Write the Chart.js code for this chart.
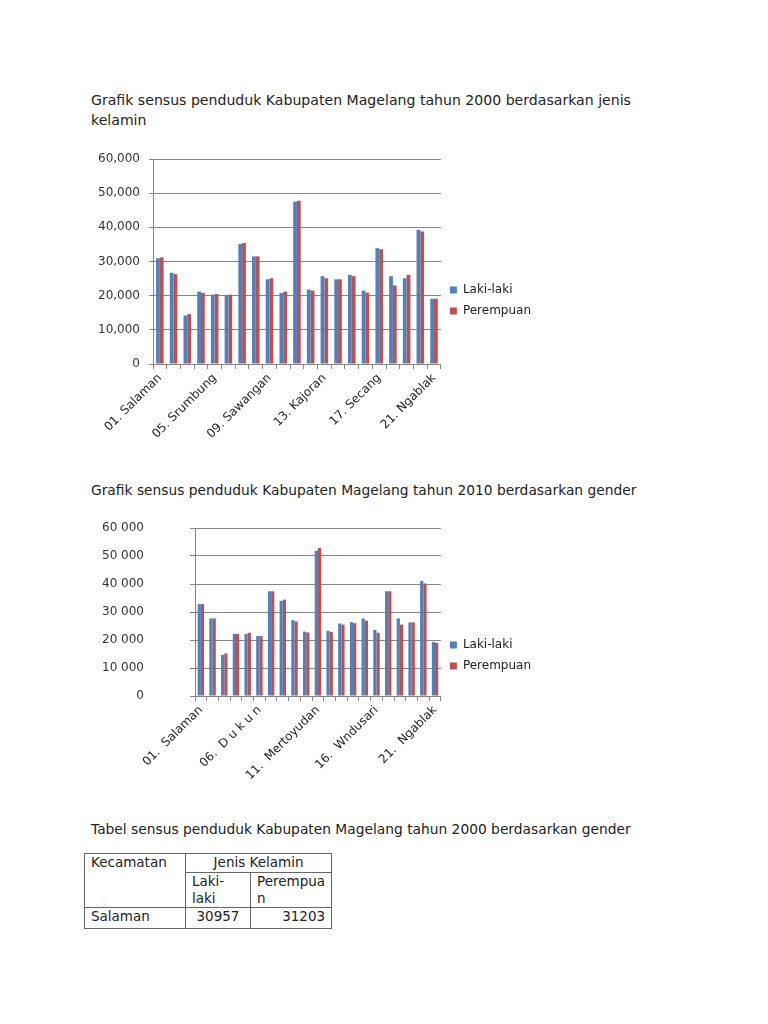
<!DOCTYPE html>
<html lang="id">
<head>
    <meta charset="UTF-8">
    <title>Grafik sensus penduduk Kabupaten Magelang</title>
    <script src="https://cdn.jsdelivr.net/npm/chart.js"></script>
    <style>
        body { margin: 0; background: #fff; font-family: "DejaVu Sans", sans-serif; color: #222; }
        .txt { position: absolute; left: 91px; font-size: 13.8px; line-height: 20px; white-space: nowrap; }
        canvas { position: absolute; left: 80px; }
        table { position: absolute; left: 84px; top: 853px; border-collapse: collapse; font-size: 13.5px; }
        td { border: 1px solid #666; padding: 0 6px; line-height: 17px; vertical-align: top; }
    </style>
</head>
<body>
    <div class="txt" style="top:90px; font-size:14.1px">Grafik sensus penduduk Kabupaten Magelang tahun 2000 berdasarkan jenis<br>kelamin</div>
    <canvas id="chart2000" width="480" height="305" style="top:145px"></canvas>

    <div class="txt" style="top:480px">Grafik sensus penduduk Kabupaten Magelang tahun 2010 berdasarkan gender</div>
    <canvas id="chart2010" width="480" height="277" style="top:515px"></canvas>

    <div class="txt" style="top:819px">Tabel sensus penduduk Kabupaten Magelang tahun 2000 berdasarkan gender</div>
    <table>
        <tr style="height:19px">
            <td rowspan="2" style="width:88px">Kecamatan</td>
            <td colspan="2" style="text-align:center">Jenis Kelamin</td>
        </tr>
        <tr style="height:35px">
            <td style="width:52px">Laki-<br>laki</td>
            <td style="width:68px">Perempua<br>n</td>
        </tr>
        <tr style="height:21px">
            <td>Salaman</td>
            <td style="text-align:center">30957</td>
            <td style="text-align:right">31203</td>
        </tr>
    </table>

    <script>
        const labels2000 = ['01. Salaman', '02. Borobudur', '03. Ngluwar', '04. Salam', '05. Srumbung', '06. Dukun',
            '07. Muntilan', '08. Mungkid', '09. Sawangan', '10. Candimulyo', '11. Mertoyudan', '12. Tempuran',
            '13. Kajoran', '14. Kaliangkrik', '15. Bandongan', '16. Windusari', '17. Secang', '18. Tegalrejo',
            '19. Pakis', '20. Grabag', '21. Ngablak'];
        const laki2000 = [30957, 26700, 14200, 21200, 20300, 20000, 35100, 31500, 24800, 20800, 47500,
            21800, 25700, 24800, 26100, 21500, 33900, 25700, 25100, 39300, 19100];
        const perempuan2000 = [31203, 26300, 14600, 20800, 20500, 20300, 35400, 31500, 25100, 21200, 47800,
            21500, 25100, 24800, 25700, 20900, 33600, 23000, 26100, 38800, 19100];

        const labels2010 = ['01.  Salaman', '02.  Borobudur', '03.  Ngluwar', '04.  Salam', '05.  Srumbung', '06.  D u k u n',
            '07.  Muntilan', '08.  Mungkid', '09.  Sawangan', '10.  Candimulyo', '11.  Mertoyudan', '12.  Tempuran',
            '13.  Kajoran', '14.  Kaliangkrik', '15.  Bandongan', '16.  Wndusari', '17.  Secang', '18.  Tegalrejo',
            '19.  Pakis', '20.  Grabag', '21.  Ngablak'];
        const laki2010 = [32800, 27700, 14700, 22200, 22200, 21400, 37400, 34000, 27100, 23000, 51900,
            23300, 25900, 26400, 27700, 23600, 37400, 27700, 26300, 41100, 19300];
        const perempuan2010 = [32800, 27700, 15200, 22200, 22600, 21400, 37400, 34400, 26600, 22700, 52900,
            22900, 25500, 26000, 26900, 22600, 37400, 25500, 26300, 40200, 19000];

        const yTicks = [0, 10000, 20000, 30000, 40000, 50000, 60000];
        const seriesNames = ['Laki-laki', 'Perempuan'];
        const seriesColors = ['#4F81BD', '#C0504D'];

        const gridColor = '#868686';
        const tickFont = { family: 'DejaVu Sans', size: 12 };

        function makeChart(id, labels, laki, perempuan, opts) {
            const ctx = document.getElementById(id).getContext('2d');
            return new Chart(ctx, {
                type: 'bar',
                data: {
                    labels: labels,
                    datasets: [
                        { label: seriesNames[0], data: laki, backgroundColor: seriesColors[0] },
                        { label: seriesNames[1], data: perempuan, backgroundColor: seriesColors[1] }
                    ]
                },
                options: {
                    responsive: false,
                    animation: false,
                    categoryPercentage: 0.55,
                    barPercentage: 1,
                    layout: { padding: { top: opts.padTop, right: 19, left: 0, bottom: opts.padBottom } },
                    plugins: {
                        tooltip: { enabled: false },
                        legend: {
                            position: 'right',
                            labels: {
                                boxWidth: 7, boxHeight: 7, padding: 9,
                                color: '#222', font: { family: 'DejaVu Sans', size: 12 }
                            }
                        }
                    },
                    scales: {
                        x: {
                            afterFit: s => { s.height = opts.xHeight; },
                            grid: { drawOnChartArea: false, drawTicks: true, tickLength: 5, color: gridColor },
                            border: { color: gridColor },
                            ticks: {
                                autoSkip: false, minRotation: 45, maxRotation: 45, padding: 2,
                                color: '#222', font: tickFont,
                                callback: function (v, i) { return i % opts.every === 0 ? this.getLabelForValue(v) : ''; }
                            }
                        },
                        y: {
                            min: 0, max: 60000,
                            // fixed width; drop the tick padding from the top/bottom reserve
                            afterFit: s => { s.width = opts.yWidth; s.paddingTop = 0; s.paddingBottom = 0; },
                            afterBuildTicks: s => { s.ticks = yTicks.map(v => ({ value: v })); },
                            grid: { color: gridColor, tickLength: opts.tickLen },
                            border: { color: gridColor },
                            ticks: {
                                padding: opts.yPad, color: '#333', font: tickFont,
                                callback: v => v.toLocaleString('en-US').replace(/,/g, opts.sep)
                            }
                        }
                    }
                }
            });
        }

        makeChart('chart2000', labels2000, laki2000, perempuan2000,
            { padTop: 14, padBottom: 8, xHeight: 78, yWidth: 73, tickLen: 4, yPad: 9, every: 4, sep: ',' });
        makeChart('chart2010', labels2010, laki2010, perempuan2010,
            { padTop: 13, padBottom: 9, xHeight: 87, yWidth: 115, tickLen: 5, yPad: 46, every: 5, sep: ' ' });
    </script>
</body>
</html>
